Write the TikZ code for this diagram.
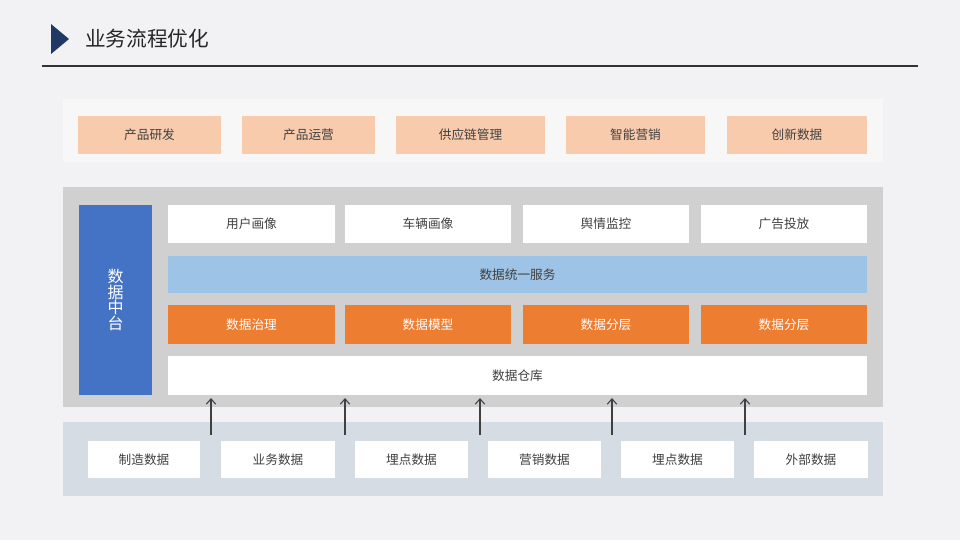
\documentclass[tikz,border=0pt]{standalone}
\usepackage{fontspec}
\setmainfont{Noto Sans CJK SC}
\usetikzlibrary{arrows.meta}
\definecolor{bgc}{HTML}{F2F2F4}
\definecolor{bandc}{HTML}{F7F7F8}
\definecolor{navy}{HTML}{1F3864}
\definecolor{peach}{HTML}{F8CBAD}
\definecolor{midgrey}{HTML}{D0D0D0}
\definecolor{botgrey}{HTML}{D6DCE4}
\definecolor{bluebox}{HTML}{4472C4}
\definecolor{lightblue}{HTML}{9DC3E6}
\definecolor{orangebox}{HTML}{ED7D31}
\definecolor{txt}{HTML}{404040}
\tikzset{
  wh/.style 2 args={minimum width=#1*0.75pt, minimum height=#2*0.75pt, inner sep=0pt, outer sep=0pt},
  lbl/.style={font=\fontsize{9.5}{11}\selectfont, text=txt},
  topbox/.style={fill=peach, lbl},
  whitebox/.style={fill=white, lbl},
  orbox/.style={fill=orangebox, lbl, text=white},
  arr/.style={draw=txt, line width=0.8pt, -{Straight Barb[length=4pt,width=7pt]}},
}
\begin{document}
\begin{tikzpicture}[x=0.75pt,y=-0.75pt]
\useasboundingbox (0,0) rectangle (960,540);
\fill[bgc] (0,0) rectangle (960,540);
% title
\fill[navy] (51,24) -- (69,39) -- (51,54) -- cycle;
\node[anchor=west, inner sep=0pt, font=\fontsize{15.5}{17}\selectfont, text=black!85] (title) at (85,39) {业务流程优化};
\coordinate (l1) at (42,66);
\coordinate (l2) at (918,66);
\draw[line width=0.8pt, black!80] (l1) -- (l2);
% top band
\fill[bandc] (63,99) rectangle (883,162);
\node[topbox, wh={143}{38}] (t1) at (149.5,135) {产品研发};
\node[topbox, wh={133}{38}] (t2) at (308.5,135) {产品运营};
\node[topbox, wh={149}{38}] (t3) at (470.5,135) {供应链管理};
\node[topbox, wh={139}{38}] (t4) at (635.5,135) {智能营销};
\node[topbox, wh={140}{38}] (t5) at (797,135) {创新数据};
% middle panel
\fill[midgrey] (63,187) rectangle (883,407);
\node[fill=bluebox, wh={73}{190}, text=white, font=\fontsize{12}{11.8}\selectfont, align=center] (dz) at (115.5,300) {数\\据\\中\\台};
\node[whitebox, wh={167}{38}] (r1) at (251.5,224) {用户画像};
\node[whitebox, wh={166}{38}] (r2) at (428,224) {车辆画像};
\node[whitebox, wh={166}{38}] (r3) at (606,224) {舆情监控};
\node[whitebox, wh={166}{38}] (r4) at (784,224) {广告投放};
\node[fill=lightblue, lbl, wh={699}{37}] (svc) at (517.5,274.5) {数据统一服务};
\node[orbox, wh={167}{39}] (o1) at (251.5,324.5) {数据治理};
\node[orbox, wh={166}{39}] (o2) at (428,324.5) {数据模型};
\node[orbox, wh={166}{39}] (o3) at (606,324.5) {数据分层};
\node[orbox, wh={166}{39}] (o4) at (784,324.5) {数据分层};
\node[whitebox, wh={699}{39}] (wh) at (517.5,375.5) {数据仓库};
% bottom panel
\fill[botgrey] (63,422) rectangle (883,496);
\node[whitebox, wh={112}{37}] (b1) at (144,459.5) {制造数据};
\node[whitebox, wh={114}{37}] (b2) at (278,459.5) {业务数据};
\node[whitebox, wh={113}{37}] (b3) at (411.5,459.5) {埋点数据};
\node[whitebox, wh={113}{37}] (b4) at (544.5,459.5) {营销数据};
\node[whitebox, wh={113}{37}] (b5) at (677.5,459.5) {埋点数据};
\node[whitebox, wh={114}{37}] (b6) at (811,459.5) {外部数据};
% arrows
\foreach \i/\x in {1/211,2/345,3/480,4/612,5/745}{
  \coordinate (s\i) at (\x,435);
  \coordinate (e\i) at (\x,398);
  \draw[arr] (s\i) -- (e\i);
}
\end{tikzpicture}
\end{document}
